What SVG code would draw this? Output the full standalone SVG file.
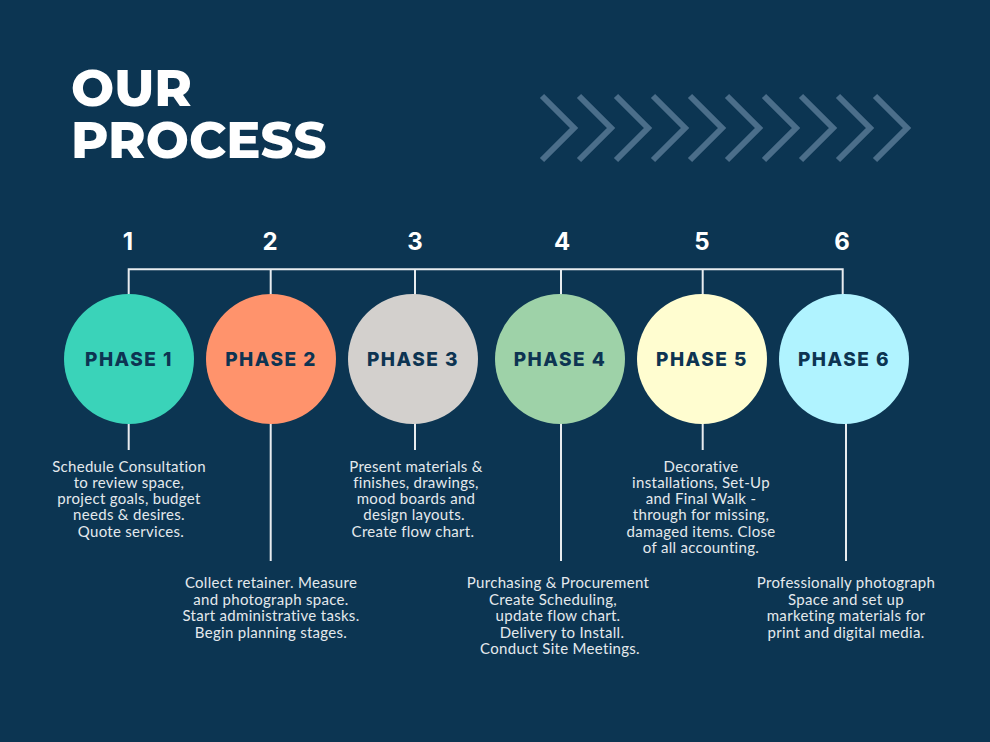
<svg xmlns="http://www.w3.org/2000/svg" width="990" height="742" viewBox="0 0 990 742">
<style>
.title{font-family:"Montserrat","Inter","Liberation Sans",sans-serif;font-weight:800;font-size:51px;fill:#ffffff}
.num{font-family:"Inter","Liberation Sans",sans-serif;font-weight:700;font-size:24px;fill:#ffffff;text-anchor:middle}
.ph{font-family:"Inter","Liberation Sans",sans-serif;font-weight:800;font-size:19px;fill:#0d3452;text-anchor:middle;letter-spacing:1.5px}
.desc{font-family:"Lato","Liberation Sans",sans-serif;font-size:15px;fill:#e4e9ed;text-anchor:middle;letter-spacing:0.3px}
.conn{stroke:#e8ecef;stroke-width:2;fill:none}
.chev{stroke:#4b6e8a;stroke-width:6;fill:none;stroke-linejoin:miter}
</style>
<defs>
<path id="chev" d="M0,0 L32,32 L0,64" class="chev"/>
</defs>
<rect width="990" height="742" fill="#0c3552"/>
<g id="title">
<text class="title"><tspan x="71" y="106">OUR</tspan><tspan x="71" y="158">PROCESS</tspan></text>
</g>
<g id="chevrons">
<use href="#chev" x="542" y="96"/>
<use href="#chev" x="579" y="96"/>
<use href="#chev" x="616" y="96"/>
<use href="#chev" x="653" y="96"/>
<use href="#chev" x="690" y="96"/>
<use href="#chev" x="727" y="96"/>
<use href="#chev" x="764" y="96"/>
<use href="#chev" x="801" y="96"/>
<use href="#chev" x="838" y="96"/>
<use href="#chev" x="875" y="96"/>
</g>
<g id="numbers">
<text class="num" x="128" y="250">1</text>
<text class="num" x="270" y="250">2</text>
<text class="num" x="415" y="250">3</text>
<text class="num" x="562" y="250">4</text>
<text class="num" x="702" y="250">5</text>
<text class="num" x="842" y="250">6</text>
</g>
<g id="connectors">
<path class="conn" d="M128.7,296 V269.3 H842.7 V296"/>
<path class="conn" d="M270.7,269.3 V296 M415,269.3 V296 M561,269.3 V296 M702.7,269.3 V296"/>
<path class="conn" d="M128.7,422 V450 M270.7,422 V561 M415,422 V450 M561,422 V561 M702.7,422 V450 M846,422 V561"/>
</g>
<g id="phase1"><circle cx="129" cy="359" r="65" fill="#3ad3b9"/><text class="ph" x="129" y="365.5">PHASE 1</text></g>
<g id="phase2"><circle cx="271" cy="359" r="65" fill="#ff936c"/><text class="ph" x="271" y="365.5">PHASE 2</text></g>
<g id="phase3"><circle cx="413" cy="359" r="65" fill="#d3d0cd"/><text class="ph" x="413" y="365.5">PHASE 3</text></g>
<g id="phase4"><circle cx="560" cy="359" r="65" fill="#9ed2a8"/><text class="ph" x="560" y="365.5">PHASE 4</text></g>
<g id="phase5"><circle cx="702" cy="359" r="65" fill="#fffdd0"/><text class="ph" x="702" y="365.5">PHASE 5</text></g>
<g id="phase6"><circle cx="844" cy="359" r="65" fill="#b0f3ff"/><text class="ph" x="844" y="365.5">PHASE 6</text></g>
<g id="desc1">
<text class="desc" x="129" y="471.5">Schedule Consultation</text>
<text class="desc" x="129" y="487.8">to review space,</text>
<text class="desc" x="129" y="504">project goals, budget</text>
<text class="desc" x="129" y="520.3">needs &amp; desires.</text>
<text class="desc" x="131" y="536.5">Quote services.</text>
</g>
<g id="desc2">
<text class="desc" x="271" y="588.3">Collect retainer. Measure</text>
<text class="desc" x="271" y="604.7">and photograph space.</text>
<text class="desc" x="271" y="621">Start administrative tasks.</text>
<text class="desc" x="271" y="637.5">Begin planning stages.</text>
</g>
<g id="desc3">
<text class="desc" x="416" y="471.5">Present materials &amp;</text>
<text class="desc" x="416" y="487.8">finishes, drawings,</text>
<text class="desc" x="416" y="504">mood boards and</text>
<text class="desc" x="414" y="520.3">design layouts.</text>
<text class="desc" x="413" y="536.5">Create flow chart.</text>
</g>
<g id="desc4">
<text class="desc" x="558" y="588.3">Purchasing &amp; Procurement</text>
<text class="desc" x="553" y="604.7">Create Scheduling,</text>
<text class="desc" x="558" y="621">update flow chart.</text>
<text class="desc" x="562" y="637.5">Delivery to Install.</text>
<text class="desc" x="560" y="654">Conduct Site Meetings.</text>
</g>
<g id="desc5">
<text class="desc" x="701" y="471.5">Decorative</text>
<text class="desc" x="701" y="487.8">installations, Set-Up</text>
<text class="desc" x="701" y="504">and Final Walk -</text>
<text class="desc" x="701" y="520.3">through for missing,</text>
<text class="desc" x="701" y="536.5">damaged items. Close</text>
<text class="desc" x="701" y="552.8">of all accounting.</text>
</g>
<g id="desc6">
<text class="desc" x="846" y="588.3">Professionally photograph</text>
<text class="desc" x="846" y="604.7">Space and set up</text>
<text class="desc" x="846" y="621">marketing materials for</text>
<text class="desc" x="846" y="637.5">print and digital media.</text>
</g>
</svg>
